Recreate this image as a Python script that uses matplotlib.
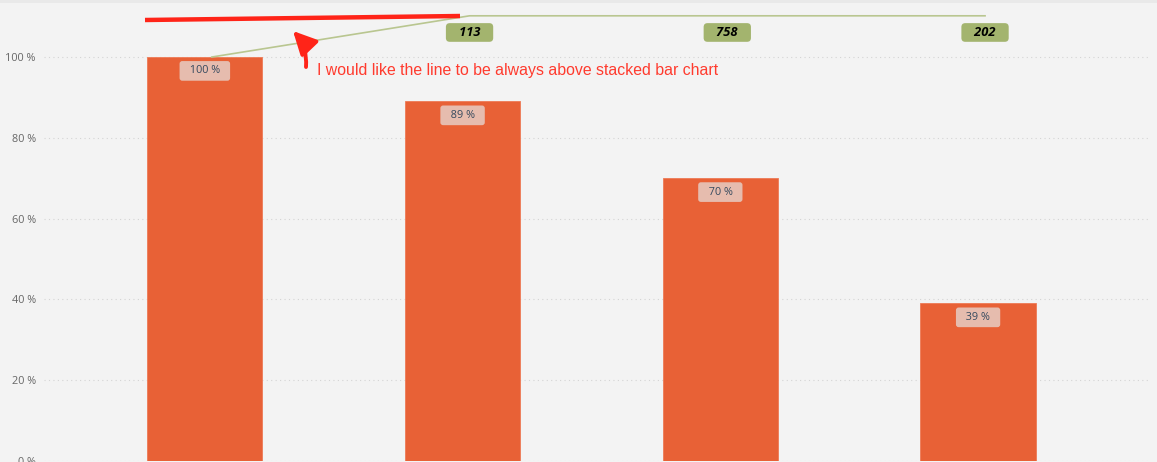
import numpy as np
import matplotlib
matplotlib.use("Agg")
import matplotlib.pyplot as plt
from matplotlib.lines import Line2D
from matplotlib.patches import FancyArrowPatch, Rectangle

# data
categories = ["A", "B", "C", "D"]
bar_values = [100, 89, 70, 39]          # percent
line_values = [100, 113, 758, 202]      # line series, clipped at the top of the plot
line_labels = ["", "113", "758", "202"]
y_ticks = [0, 20, 40, 60, 80, 100]

BG = "#f3f3f3"
BAR = "#e86136"
LINE = "#b9c690"
LABEL_BOX = "#a3b46e"

plt.rcParams["font.family"] = ["Liberation Sans", "DejaVu Sans"]

fig = plt.figure(figsize=(11.57, 4.62), dpi=100, facecolor=BG)
W, H = 1157, 462
ax = fig.add_axes([44 / W, 1 / H, (1150 - 44) / W, (461 - 15) / H])
ax.set_facecolor(BG)
fig.add_artist(Rectangle((0, (H - 3) / H), 1, 3 / H, transform=fig.transFigure,
                         color="#e9e9e9", lw=0))

x = np.arange(len(categories))
ymax = 110.4
ax.set_xlim(-0.624, 3.667)
ax.set_ylim(0, ymax)

ax.bar(x, bar_values, width=0.447, color=BAR, edgecolor="#ee7a55", lw=0.6, zorder=2)
for xi, v in zip(x, bar_values):
    ax.annotate(f"  {v} %  ", (xi, v), xytext=(0, -10), textcoords="offset points",
                ha="center", va="center", fontsize=7.8, color="#34495e",
                family=["Open Sans", "DejaVu Sans"],
                bbox=dict(boxstyle="round,pad=0.4,rounding_size=0.25",
                          fc="#e6bcae", ec="none"), zorder=4)

# line series, clamped to the plot top
lx = x + 0.027
ly = np.minimum(line_values, ymax - 0.2)
ax.plot(lx, ly, color=LINE, lw=1.2, zorder=3, clip_on=False)
for xi, yi, lab in zip(lx, ly, line_labels):
    if not lab:
        continue
    ax.annotate(f"   {lab}   ", (xi, yi), xytext=(0, -12), textcoords="offset points",
                ha="center", va="center", fontsize=9.3, fontweight="bold",
                fontstyle="italic", color="black",
                family=["Open Sans", "DejaVu Sans"],
                bbox=dict(boxstyle="round,pad=0.22,rounding_size=0.3",
                          fc=LABEL_BOX, ec="none"), zorder=5, annotation_clip=False)

ax.set_yticks(y_ticks)
ax.set_yticklabels([f"{t} %" for t in y_ticks], fontsize=7.8, color="#666666",
                   family=["Open Sans", "DejaVu Sans"])
ax.tick_params(axis="y", length=0, pad=6)
ax.set_xticks([])
ax.grid(axis="y", color="#d4d4d4", ls=(0, (1, 3)), lw=0.8, zorder=0)
for s in ax.spines.values():
    s.set_visible(False)

# red annotation drawn over the screenshot
fig.add_artist(Line2D([145 / W, 460 / W], [(H - 20) / H, (H - 16) / H],
                      transform=fig.transFigure, color="#ff2418", lw=3.2,
                      solid_capstyle="butt"))
fig.add_artist(FancyArrowPatch((306 / W, (H - 67) / H), (293 / W, (H - 31) / H),
                               transform=fig.transFigure,
                               connectionstyle="arc3,rad=0.22",
                               arrowstyle="-|>,head_length=14,head_width=7",
                               shrinkA=0, shrinkB=0,
                               color="#ff2418", lw=2.8))
fig.text(317 / W, (H - 70) / H, "I would like the line to be always above stacked bar chart",
         color="#ff3b2e", fontsize=11.4, ha="left", va="center")

fig.savefig("out.png", dpi=100, facecolor=BG)
